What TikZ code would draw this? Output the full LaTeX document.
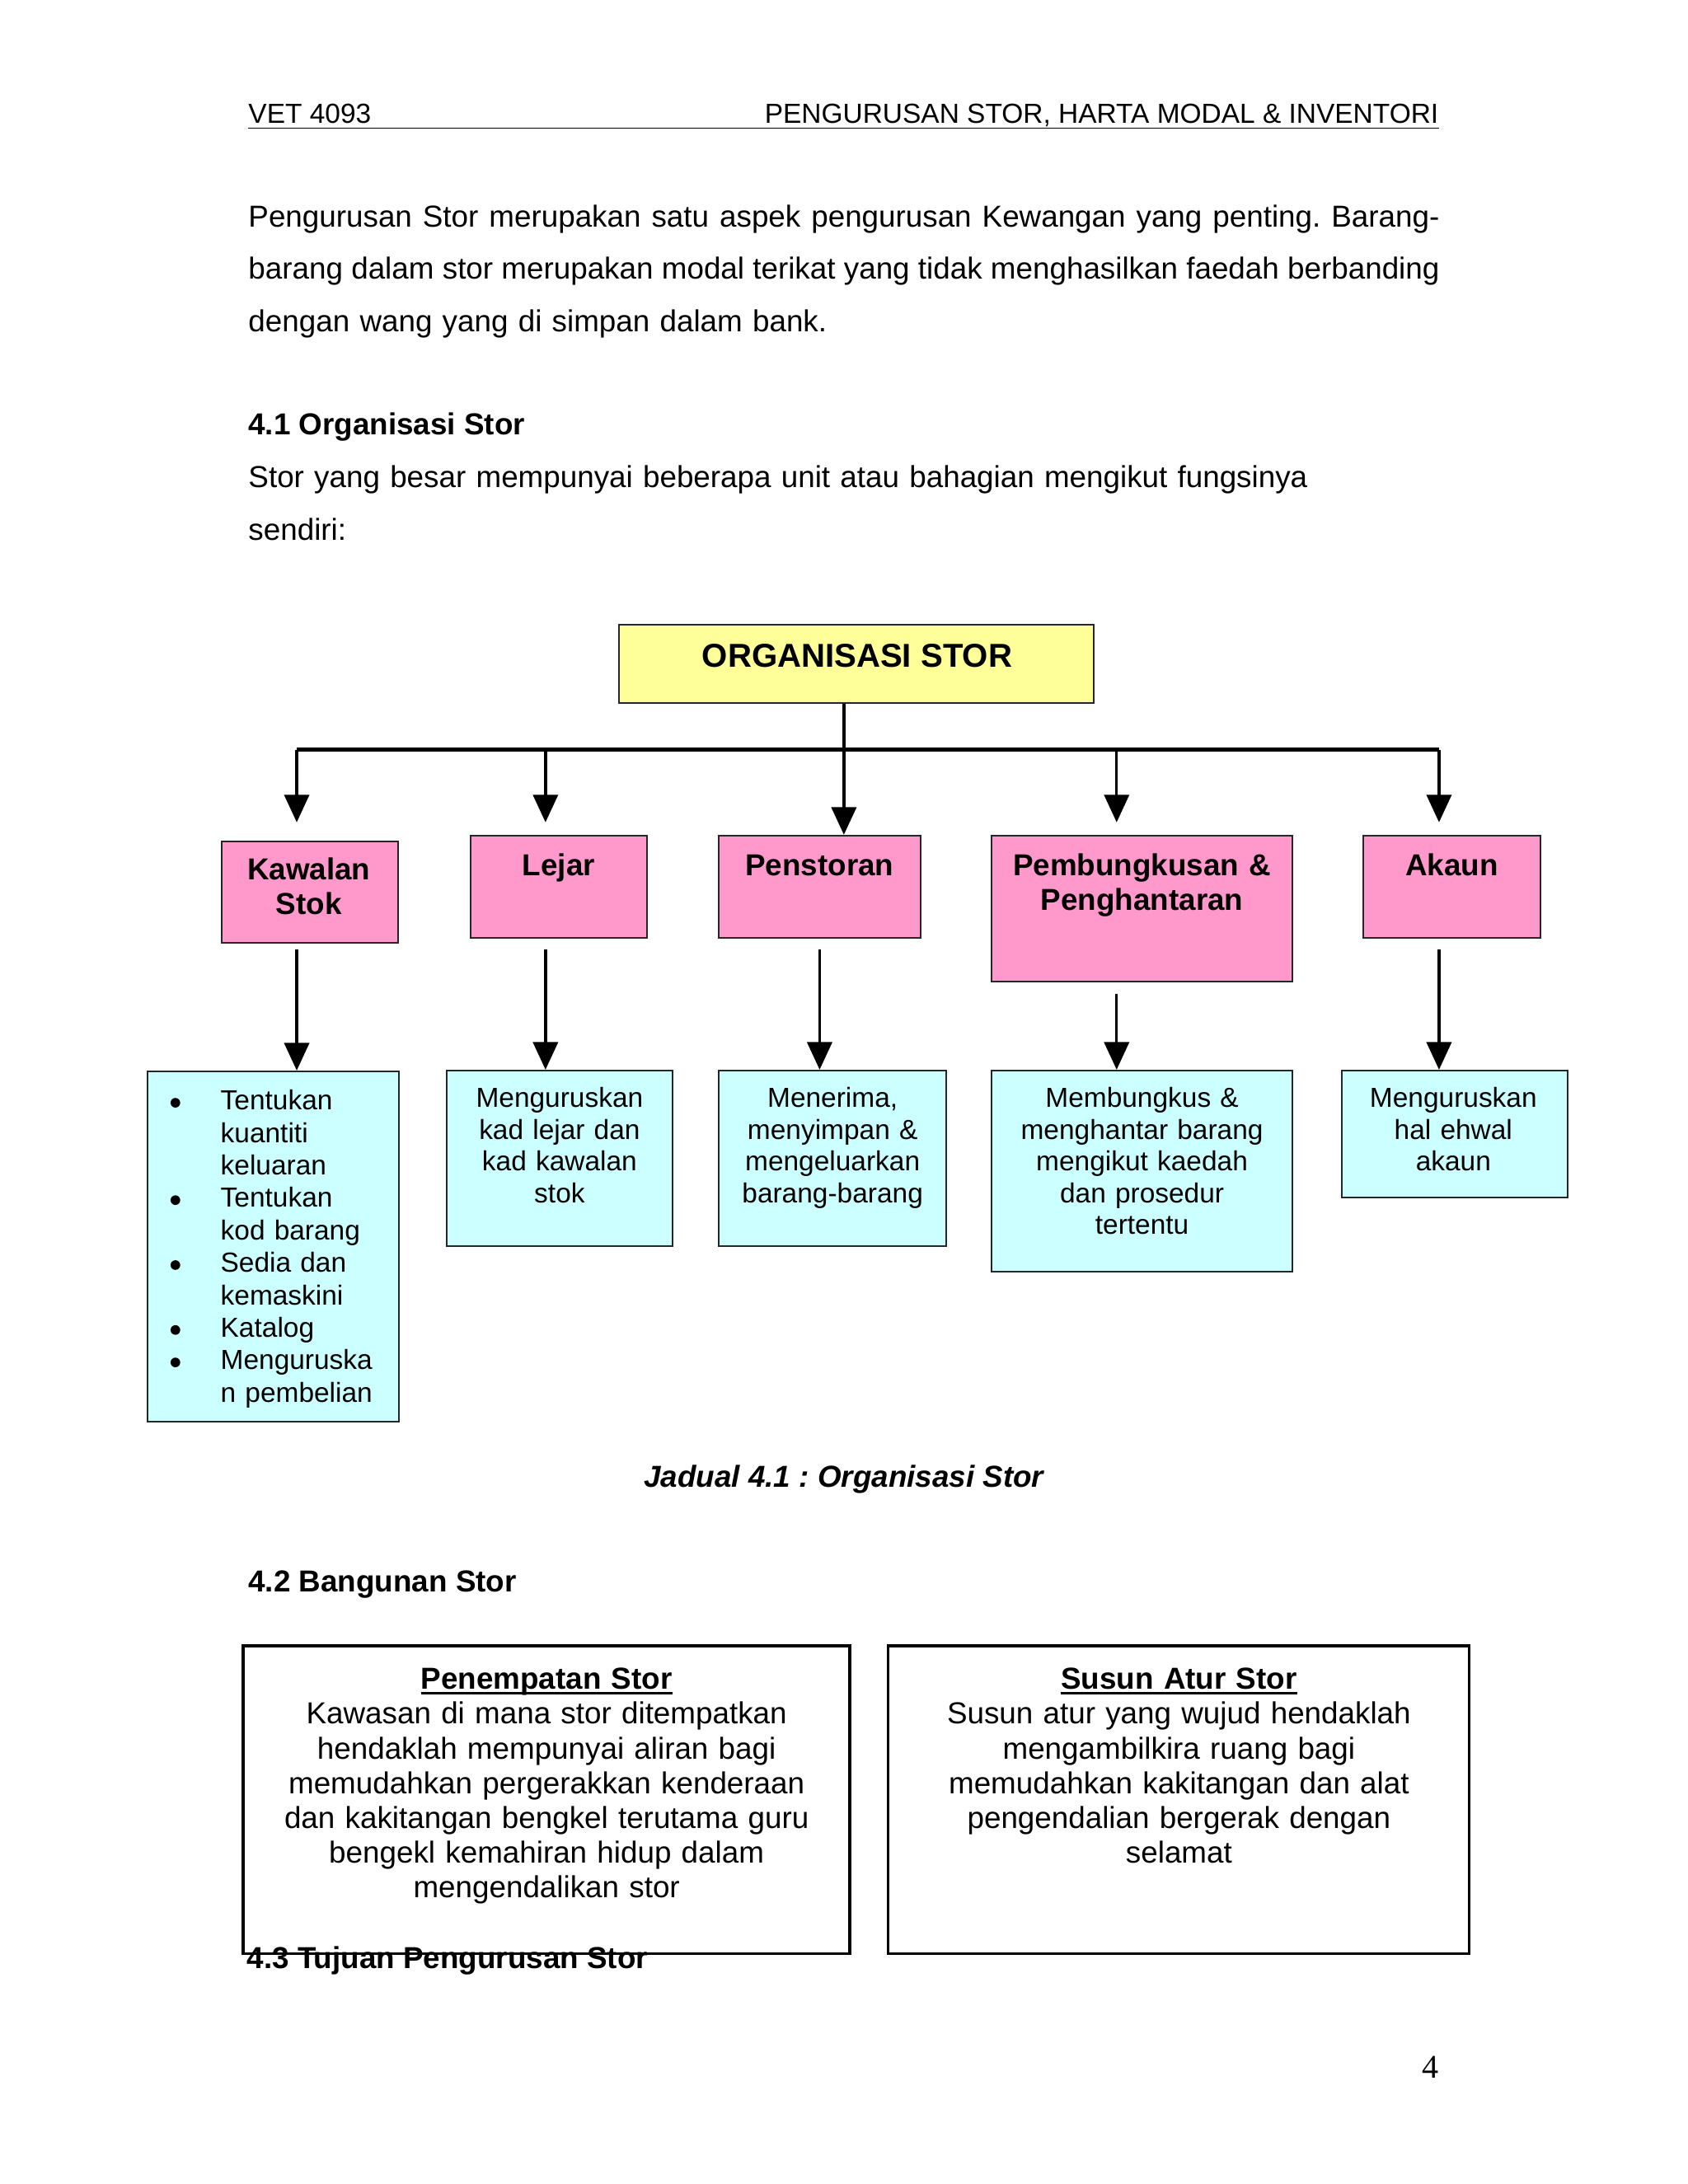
\documentclass[tikz,border=0pt]{standalone}
\usepackage{fontspec}
\setmainfont{Liberation Sans}
\newfontfamily\nomborfont{Liberation Serif}
\usetikzlibrary{arrows.meta,fit}
\definecolor{kuning}{HTML}{FFFF99}
\definecolor{merahjambu}{HTML}{FF99CC}
\definecolor{biru}{HTML}{CCFFFF}
\newcommand{\garisbawah}[1]{\setbox0\hbox{#1}\rlap{\vrule height -1pt depth 1.8pt width \wd0}\box0}
\newcommand{\barisrata}[1]{\leavevmode\hbox to 431.9pt{\spaceskip=0.278em plus 0.3em minus 0.2em #1}}
\frenchspacing

\begin{document}
\begin{tikzpicture}[x=1pt,y=-1pt,>={Triangle[length=10pt,width=9pt]},
   kotak/.style={draw=black!85,line width=0.6pt,inner sep=0pt},
   kotakorg/.style={kotak,fill=kuning},
   kotakunit/.style={kotak,fill=merahjambu},
   kotaktugas/.style={kotak,fill=biru},
   kotakbina/.style={draw,line width=1pt,inner sep=0pt},
   teks/.style={inner sep=0pt,anchor=base west,font=\fontsize{11}{19.1}\selectfont},
   tajuk/.style={teks,font=\fontsize{11}{19.1}\selectfont\bfseries},
   teksunit/.style={inner sep=0pt,anchor=base,text width=120pt,align=center,font=\fontsize{11}{12.6}\selectfont\bfseries},
   tekstugas/.style={inner sep=0pt,anchor=base,text width=110pt,align=center,font=\fontsize{10}{11.5}\selectfont},
   teksbina/.style={inner sep=0pt,anchor=base,text width=215pt,align=center,font=\fontsize{11}{12.6}\selectfont},
   panah/.style={->,line width=1pt}]
   \fill[white] (0,0) rectangle (612,792);
   \useasboundingbox (0,0) rectangle (612,792);

   % kepala halaman
   \node[teks,font=\fontsize{10}{12}\selectfont] (kod) at (89.9,44.8) {VET 4093};
   \node[teks,anchor=base east,font=\fontsize{10}{12}\selectfont] (kepala) at (521.8,44.8) {PENGURUSAN STOR, HARTA MODAL \& INVENTORI};
   \draw[line width=0.5pt] (89.9,46.5) -- (521.8,46.5);

   \node[teks,text width=431.9pt,align=left] (pengenalan) at (89.9,82.2) {\barisrata{Pengurusan Stor merupakan satu aspek pengurusan Kewangan yang penting. Barang-}\\\barisrata{barang dalam stor merupakan modal terikat yang tidak menghasilkan faedah berbanding}\\dengan wang yang di simpan dalam bank.};
   \node[tajuk] (tajuk41) at (89.9,157.8) {4.1 Organisasi Stor};
   \node[teks,text width=431.9pt,align=left] (unitstor) at (89.9,176.9) {Stor yang besar mempunyai beberapa unit atau bahagian mengikut fungsinya\\sendiri:};

   % carta organisasi
   \node[kotakorg,fit={(224.4,226.5) (396.5,254.9)}] (org) {};
   \node[inner sep=0pt,anchor=base,font=\fontsize{12}{14}\selectfont\bfseries] (orgT) at (310.8,241.8) {ORGANISASI STOR};

   \node[kotakunit,fit={(80.3,305.0) (144.4,341.9)}] (kawalan) {};
   \node[kotakunit,fit={(170.6,303.0) (234.6,340.1)}] (lejar) {};
   \node[kotakunit,fit={(260.6,303.0) (333.8,340.1)}] (penstoran) {};
   \node[kotakunit,fit={(359.5,303.0) (468.6,355.9)}] (pembungkusan) {};
   \node[kotakunit,fit={(494.3,303.0) (558.5,340.1)}] (akaun) {};
   \node[teksunit] (kawalanT) at (112.0,319.1) {Kawalan\\Stok};
   \node[teksunit] (lejarT) at (202.6,317.4) {Lejar};
   \node[teksunit] (penstoranT) at (297.2,317.4) {Penstoran};
   \node[teksunit] (pembungkusanT) at (414.1,317.4) {Pembungkusan \&\\Penghantaran};
   \node[teksunit] (akaunT) at (526.4,317.4) {Akaun};

   \node[kotaktugas,fit={(53.5,388.5) (144.6,515.5)}] (kawalanD) {};
   \node[kotaktugas,fit={(162.0,388.2) (243.8,451.8)}] (lejarD) {};
   \node[kotaktugas,fit={(260.6,388.2) (343.1,451.8)}] (penstoranD) {};
   \node[kotaktugas,fit={(359.5,388.2) (468.6,461.1)}] (pembungkusanD) {};
   \node[kotaktugas,fit={(486.5,388.2) (568.4,434.2)}] (akaunD) {};

   \node[tekstugas,anchor=base west,text width=62pt,align=left,font=\fontsize{10}{11.77}\selectfont] (kawalanL) at (79.8,402.5) {Tentukan\\kuantiti\\keluaran\\Tentukan\\kod barang\\Sedia dan\\kemaskini\\Katalog\\Menguruska\\n pembelian};
   \foreach \i in {0,3,5,7,8}
      \fill (63.6,399.9+\i*11.77) circle (1.75pt);
   \node[tekstugas] (lejarL) at (202.9,401.6) {Menguruskan\\kad lejar dan\\kad kawalan\\stok};
   \node[tekstugas] (penstoranL) at (301.9,401.6) {Menerima,\\menyimpan \&\\mengeluarkan\\barang-barang};
   \node[tekstugas] (pembungkusanL) at (414.1,401.6) {Membungkus \&\\menghantar barang\\mengikut kaedah\\dan prosedur\\tertentu};
   \node[tekstugas] (akaunL) at (527.0,401.6) {Menguruskan\\hal ehwal\\akaun};

   % garis dan anak panah
   \coordinate (b1) at (107.6,271.9);
   \coordinate (b2) at (197.8,271.9);
   \coordinate (b3) at (306.0,271.9);
   \coordinate (b4) at (404.9,271.9);
   \coordinate (b5) at (521.8,271.9);
   \draw[line width=1.5pt] (b1) -- (b5);
   \draw[panah] (org.south -| b3) -- (b3 |- penstoran.north);
   \draw[panah,shorten >=6.5pt] (b1) -- (b1 |- kawalan.north);
   \draw[panah,shorten >=4.5pt] (b2) -- (b2 |- lejar.north);
   \draw[panah,shorten >=4.5pt] (b4) -- (b4 |- pembungkusan.north);
   \draw[panah,shorten >=4.5pt] (b5) -- (b5 |- akaun.north);

   \draw[panah,shorten <=2.1pt] (kawalan.south -| b1) -- (b1 |- kawalanD.north);
   \draw[panah,shorten <=3.9pt] (lejar.south -| b2) -- (b2 |- lejarD.north);
   \draw[panah,shorten <=3.9pt] (penstoran.south) -- (penstoran.south |- penstoranD.north);
   \draw[panah,shorten <=4.2pt] (pembungkusan.south -| b4) -- (b4 |- pembungkusanD.north);
   \draw[panah,shorten <=3.9pt] (akaun.south -| b5) -- (b5 |- akaunD.north);

   \node[inner sep=0pt,anchor=base,font=\fontsize{11}{13}\selectfont\bfseries\itshape] (jadual) at (306.0,539.4) {Jadual 4.1 : Organisasi Stor};

   % bangunan stor
   \node[tajuk] (tajuk42) at (89.9,577.3) {4.2 Bangunan Stor};
   \node[kotakbina,fit={(88.2,596.8) (308.1,708.5)}] (penempatan) {};
   \node[kotakbina,fit={(322.1,596.8) (532.8,708.5)}] (susunatur) {};
   \node[teksbina] (penempatanT) at (198.2,612.6) {\textbf{\garisbawah{Penempatan Stor}}\\Kawasan di mana stor ditempatkan\\hendaklah mempunyai aliran bagi\\memudahkan pergerakkan kenderaan\\dan kakitangan bengkel terutama guru\\bengekl kemahiran hidup dalam\\mengendalikan stor};
   \node[teksbina] (susunaturT) at (427.5,612.6) {\textbf{\garisbawah{Susun Atur Stor}}\\Susun atur yang wujud hendaklah\\mengambilkira ruang bagi\\memudahkan kakitangan dan alat\\pengendalian bergerak dengan\\selamat};
   \node[tajuk] (tajuk43) at (89.4,713.9) {4.3 Tujuan Pengurusan Stor};

   \node[inner sep=0pt,anchor=base east,font=\nomborfont\fontsize{12}{14}\selectfont] (halaman) at (521.8,753.6) {4};
\end{tikzpicture}
\end{document}
